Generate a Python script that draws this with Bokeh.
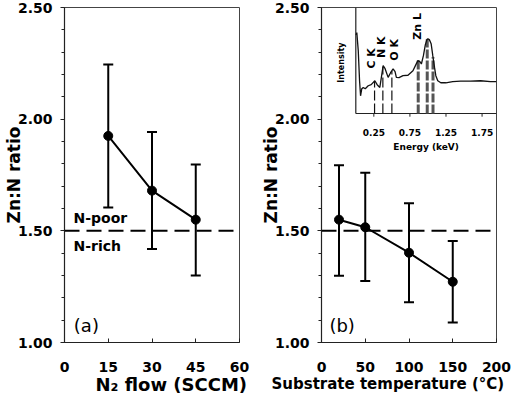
import math
from bokeh.plotting import figure
from bokeh.layouts import row
from bokeh.models import (Range1d, SingleIntervalTicker, NumeralTickFormatter, Title,
                          Whisker, TeeHead, ColumnDataSource, Span)
from bokeh.embed import file_html
from bokeh.resources import INLINE
from bokeh.core.properties import value

FONT = "DejaVu Sans"

# ---------------- data ----------------
# panel (a): Zn:N ratio vs N2 flow
n2_flow = [15, 30, 45]
ratio_a = [1.925, 1.68, 1.55]
upper_a = [2.245, 1.943, 1.797]
lower_a = [1.605, 1.419, 1.30]

# panel (b): Zn:N ratio vs substrate temperature
temperature = [20, 50, 100, 150]
ratio_b = [1.55, 1.516, 1.402, 1.272]
upper_b = [1.794, 1.76, 1.623, 1.455]
lower_b = [1.299, 1.275, 1.18, 1.09]

stoich_ratio = 1.5
y_ticks_interval = 0.5

# inset: EDS spectrum (energy in keV, intensity in arbitrary units)
energy = [0.003, 0.014, 0.034, 0.052, 0.066, 0.083, 0.103, 0.131, 0.172, 0.213,
          0.264, 0.296, 0.333, 0.358, 0.379, 0.406, 0.448, 0.482, 0.517, 0.544,
          0.562, 0.599, 0.654, 0.723, 0.792, 0.833, 0.861, 0.888, 0.909, 0.937,
          0.964, 0.985, 0.999, 1.019, 1.044, 1.067, 1.091, 1.109, 1.136, 1.178,
          1.247, 1.343, 1.453, 1.591, 1.729, 1.866, 1.948]
intensity = [74.2, 76.3, 59.3, 30.9, 16.7, 23.4, 24.6, 23.4, 26.2, 27.2,
             30.9, 27.2, 24.6, 35.7, 45.1, 42.3, 34.1, 38.5, 42.0, 39.5,
             34.1, 33.8, 35.7, 36.1, 40.4, 46.1, 49.9, 48.9, 46.7, 54.6,
             65.0, 69.7, 70.4, 69.7, 65.9, 54.6, 43.5, 35.7, 30.9, 29.0,
             29.0, 30.0, 30.5, 30.5, 30.9, 30.0, 30.0]
light_line_energy = [0.26, 0.375, 0.50]
light_line_top = [30.0, 44.0, 40.0]
zn_line_energy = [0.865, 0.99, 1.07]
zn_line_top = [50.0, 70.0, 53.0]
peak_labels = ["C K", "N K", "O K", "Zn L"]
peak_label_x = [0.223, 0.355, 0.541, 0.861]
peak_label_y = [52.0, 62.5, 60.0, 82.2]
inset_ticks = [0.25, 0.75, 1.25, 1.75]
inset_tick_labels = ["0.25", "0.75", "1.25", "1.75"]
inset_emin, inset_emax = 0.0, 1.95
inset_imin, inset_imax = 0.0, 100.0


def style(p, xinterval):
    p.xgrid.visible = False
    p.ygrid.visible = False
    p.background_fill_color = "white"
    p.border_fill_color = "white"
    p.outline_line_color = "#444444"
    p.outline_line_width = 1
    p.yaxis.ticker = SingleIntervalTicker(interval=y_ticks_interval, num_minor_ticks=5)
    p.yaxis.formatter = NumeralTickFormatter(format="0.00")
    p.xaxis.ticker = SingleIntervalTicker(interval=xinterval, num_minor_ticks=0)
    for ax in (p.xaxis, p.yaxis):
        ax.axis_line_color = "#222222"
        ax.axis_line_width = 1.2
        ax.major_tick_line_color = "#222222"
        ax.minor_tick_line_color = "#222222"
        ax.major_label_text_font = FONT
        ax.major_label_text_font_size = "14px"
        ax.major_label_text_font_style = "bold"
        ax.major_label_text_color = "black"
        ax.axis_label_text_font = FONT
        ax.axis_label_text_font_size = "17px"
        ax.axis_label_text_font_style = "bold"
        ax.axis_label_text_color = "black"
    p.yaxis.major_tick_out = 4
    p.yaxis.major_tick_in = 0
    p.yaxis.minor_tick_out = 3
    p.yaxis.minor_tick_in = 0
    p.yaxis.major_label_standoff = 8
    p.yaxis.axis_label_standoff = -9
    p.yaxis.axis_label = "Zn:N ratio"
    p.xaxis.major_tick_in = 4
    p.xaxis.major_tick_out = 0
    p.xaxis.major_label_standoff = 19
    p.add_layout(Span(location=stoich_ratio, dimension="width", line_color="black",
                      line_width=2, line_dash="15 7"))


def series(p, xs, ys, up, lo):
    src = ColumnDataSource(dict(x=xs, y=ys, upper=up, lower=lo))
    p.line("x", "y", source=src, line_color="black", line_width=2)
    p.scatter("x", "y", source=src, size=9, fill_color="black", line_color="black")
    p.add_layout(Whisker(source=src, base="x", upper="upper", lower="lower",
                         dimension="height", line_color="black", line_width=2,
                         upper_head=TeeHead(size=10, line_width=2, line_color="black"),
                         lower_head=TeeHead(size=10, line_width=2, line_color="black")))


# ---------------- panel (a) ----------------
pa = figure(width=257, height=395, output_backend="svg", toolbar_location=None, title=None,
            x_range=Range1d(0, 60), y_range=Range1d(1.0, 2.5),
            min_border_left=63, min_border_right=18, min_border_top=7, min_border_bottom=53)
style(pa, 15)
series(pa, n2_flow, ratio_a, upper_a, lower_a)
pa.text(x=[3.1, 3.1], y=[1.558, 1.432], text=["N-poor", "N-rich"], text_font=value(FONT),
        text_font_size="14px", text_font_style="bold", text_align="left",
        text_baseline="middle", text_color="black")
pa.text(x=[3.2], y=[1.078], text=["(a)"], text_font=value(FONT), text_font_size="18px",
        text_align="left", text_baseline="middle", text_color="black")
pa.add_layout(Title(text="N\u2082 flow (SCCM)", align="left", offset=31, text_font=FONT,
                    text_font_size="18px", text_font_style="bold", text_color="black",
                    standoff=-6), "below")

# ---------------- panel (b) ----------------
pb = figure(width=255, height=395, output_backend="svg", toolbar_location=None, title=None,
            x_range=Range1d(0, 200), y_range=Range1d(1.0, 2.5),
            min_border_left=63, min_border_right=16, min_border_top=7, min_border_bottom=53)
style(pb, 50)
series(pb, temperature, ratio_b, upper_b, lower_b)
pb.text(x=[9.0], y=[1.078], text=["(b)"], text_font=value(FONT), text_font_size="18px",
        text_align="left", text_baseline="middle", text_color="black")
pb.add_layout(Title(text="Substrate temperature (\u00b0C)", align="left", offset=-50,
                    text_font=FONT, text_font_size="15px", text_font_style="bold",
                    text_color="black", standoff=-3), "below")

# inset drawn in the top-right corner of panel (b) through extra ranges
frac_x = (354.5 - 320.0) / 176.0      # inset left edge as fraction of frame width
frac_y = 105.7 / 334.0                # inset height as fraction of frame height
e_span = (inset_emax - inset_emin) / (1 - frac_x)
i_span = (inset_imax - inset_imin) / frac_y
pb.extra_x_ranges = {"keV": Range1d(inset_emax - e_span, inset_emax)}
pb.extra_y_ranges = {"int": Range1d(inset_imax - i_span, inset_imax)}
kw = dict(x_range_name="keV", y_range_name="int")

pb.segment(x0=[inset_emin, inset_emin], y0=[inset_imin, inset_imin],
           x1=[inset_emin, inset_emax], y1=[inset_imax, inset_imin],
           line_color="#222222", line_width=1.2, **kw)
pb.segment(x0=inset_ticks, y0=[inset_imin] * 4, x1=inset_ticks, y1=[inset_imin - 3] * 4,
           line_color="#222222", line_width=1, **kw)
pb.segment(x0=zn_line_energy, y0=[inset_imin] * 3, x1=zn_line_energy, y1=zn_line_top,
           line_color="#555555", line_width=3, line_dash="9 2", **kw)
pb.segment(x0=light_line_energy, y0=[inset_imin] * 3, x1=light_line_energy, y1=light_line_top,
           line_color="#111111", line_width=1.2, line_dash="10 3", **kw)
pb.line(energy, intensity, line_color="#111111", line_width=1.3, **kw)
pb.text(x=peak_label_x, y=peak_label_y, text=peak_labels, angle=math.pi / 2,
        text_font=value(FONT), text_font_size="11px", text_font_style="bold",
        text_align="center", text_baseline="middle", text_color="black", **kw)
pb.text(x=inset_ticks, y=[-18] * 4, text=inset_tick_labels, text_font=value(FONT),
        text_font_size="9px", text_font_style="bold", text_align="center",
        text_baseline="middle", text_color="black", **kw)
pb.text(x=[(inset_emin + inset_emax) / 2], y=[-32], text=["Energy (keV)"],
        text_font=value(FONT), text_font_size="9px", text_font_style="bold",
        text_align="center", text_baseline="middle", text_color="black", **kw)
pb.text(x=[-0.2], y=[48], text=["Intensity"], angle=math.pi / 2, text_font=value(FONT),
        text_font_size="8px", text_font_style="bold", text_align="center",
        text_baseline="middle", text_color="black", **kw)

layout = row(pa, pb)
open("out.html", "w").write(file_html(layout, INLINE))
